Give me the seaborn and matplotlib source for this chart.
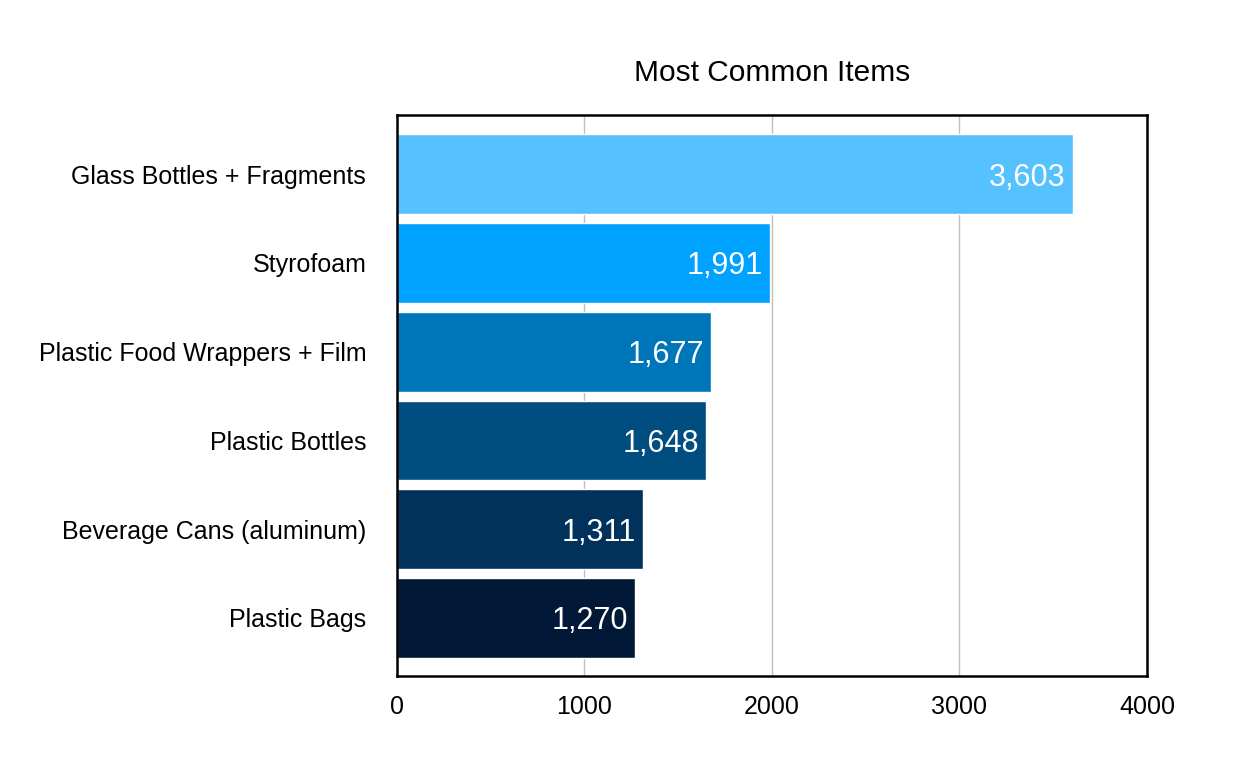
import matplotlib
matplotlib.use("Agg")
import matplotlib.pyplot as plt
import seaborn as sns
import pandas as pd

# data
items = ["Glass Bottles + Fragments", "Styrofoam", "Plastic Food Wrappers + Film",
         "Plastic Bottles", "Beverage Cans (aluminum)", "Plastic Bags"]
counts = [3603, 1991, 1677, 1648, 1311, 1270]
bar_colors = ["#56C1FF", "#00A2FF", "#0076BA", "#004D80", "#00325C", "#011936"]
x_ticks = [0, 1000, 2000, 3000, 4000]

df = pd.DataFrame({"item": items, "count": counts})

sns.set_theme(style="white")
plt.rcParams["font.family"] = ["Liberation Sans", "DejaVu Sans"]

fig = plt.figure(figsize=(12.4, 7.6), dpi=100)
ax = fig.add_axes([0.320, 0.111, 0.605, 0.738])

sns.barplot(data=df, x="count", y="item", hue="item", palette=bar_colors,
            order=items, legend=False, width=0.9, saturation=1, ax=ax)

# value labels inside the bar ends
for bar, v in zip(ax.patches, counts):
    ax.annotate(f"{v:,}", (bar.get_width(), bar.get_y() + bar.get_height() / 2),
                xytext=(-5, 0), textcoords="offset points",
                ha="right", va="center_baseline", color="white", fontsize=22)

ax.set_xlim(0, 4000)
ax.set_ylim(5.65, -0.67)
ax.set_xticks(x_ticks)
ax.xaxis.grid(True, color="#BFBFBF", linewidth=1)
ax.set_axisbelow(True)
ax.set_xlabel("")
ax.set_ylabel("")
ax.tick_params(axis="both", length=0, labelsize=18, colors="black")
ax.tick_params(axis="y", pad=22)
ax.tick_params(axis="x", pad=14)
for s in ax.spines.values():
    s.set_color("black")
    s.set_linewidth(1.8)

ax.set_title("Most Common Items", fontsize=21.5, pad=24, color="black")

fig.savefig("out.png", dpi=100, facecolor="white")
